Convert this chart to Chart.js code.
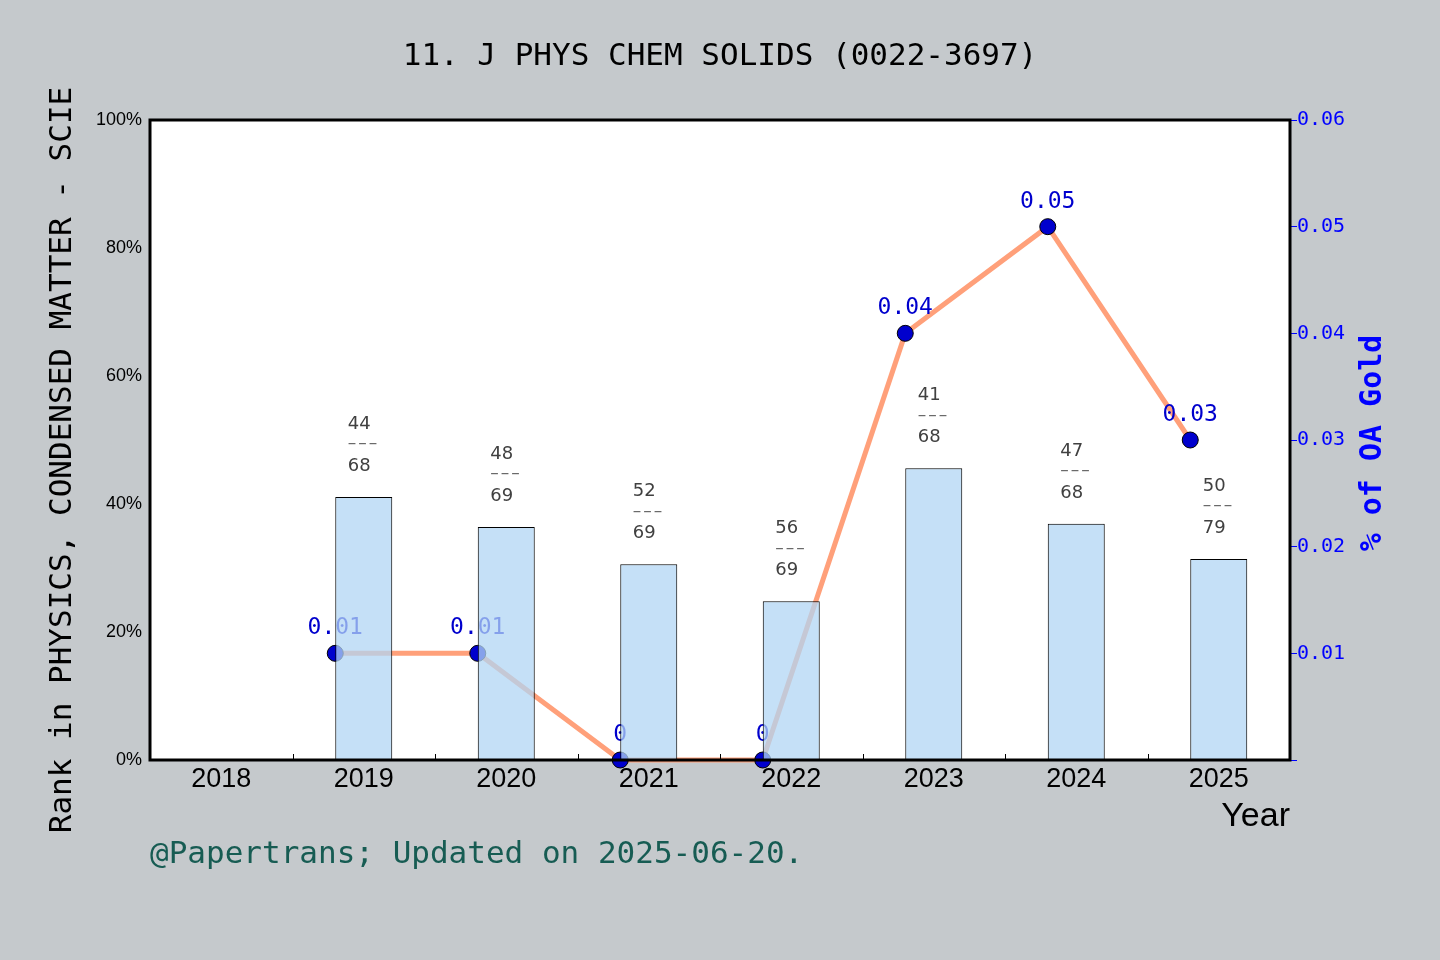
<!DOCTYPE html>
<html>
<head>
<meta charset="utf-8">
<script src="https://cdn.jsdelivr.net/npm/chart.js@4.4.1/dist/chart.umd.min.js"></script>
<style>
  html, body { margin: 0; padding: 0; background: #c5c9cc; }
  #wrap { width: 1440px; height: 960px; }
</style>
</head>
<body>
<div id="wrap"><canvas id="grafico" width="1440" height="960"></canvas></div>
<script>
// Datos
const years = ['2018', '2019', '2020', '2021', '2022', '2023', '2024', '2025'];
const rankPct = [null, 41.1, 36.4, 30.6, 24.8, 45.6, 36.9, 31.4];
const ranks = [null, 44, 48, 52, 56, 41, 47, 50];
const totals = [null, 68, 69, 69, 69, 68, 68, 79];
const oaGold = [null, 0.01, 0.01, 0, 0, 0.04, 0.05, 0.03];
const leftTicks = [0, 20, 40, 60, 80, 100];
const rightTicks = [0, 0.01, 0.02, 0.03, 0.04, 0.05, 0.06];

const MONO = '"DejaVu Sans Mono", "Liberation Mono", monospace';
const SANS = '"Liberation Sans", Arial, sans-serif';
const anchoBarra = 0.4;

// la línea va al borde izquierdo de cada barra
const puntosLinea = years
    .map((y, i) => ({ x: i - anchoBarra / 2, y: oaGold[i] }))
    .filter(p => p.y !== null);

const decoracion = {
    id: 'decoracion',
    beforeDraw(chart) {
        const { ctx, chartArea: a } = chart;
        ctx.save();
        ctx.fillStyle = '#c5c9cc';
        ctx.fillRect(0, 0, chart.width, chart.height);
        ctx.fillStyle = '#ffffff';
        ctx.fillRect(a.left, a.top, a.right - a.left, a.bottom - a.top);
        ctx.restore();
    },
    afterDatasetDraw(chart, args) {
        // etiquetas de la línea antes de que se pinten las barras encima
        if (args.index !== 1) return;
        const { ctx } = chart;
        const meta = chart.getDatasetMeta(1);
        ctx.save();
        ctx.font = '23px ' + MONO;
        ctx.fillStyle = '#0000cd';
        ctx.textAlign = 'center';
        ctx.textBaseline = 'middle';
        meta.data.forEach((pt, k) => {
            const v = puntosLinea[k].y;
            const txt = v === 0 ? '0' : v.toFixed(2);
            ctx.fillText(txt, pt.x, pt.y - 25);
        });
        ctx.restore();
    },
    afterDatasetsDraw(chart) {
        const { ctx, chartArea: a } = chart;
        const meta = chart.getDatasetMeta(0);
        const x = chart.scales.x;
        ctx.save();
        // rango / total encima de cada barra
        ctx.textAlign = 'left';
        ctx.textBaseline = 'middle';
        meta.data.forEach((bar, i) => {
            if (rankPct[i] === null) return;
            const x0 = bar.x - 16;
            ctx.font = '18px "DejaVu Sans", sans-serif';
            ctx.fillStyle = '#404040';
            ctx.letterSpacing = '0px';
            ctx.fillText(String(ranks[i]), x0, bar.y - 73);
            ctx.fillText(String(totals[i]), x0, bar.y - 31);
            ctx.font = '17px "DejaVu Sans", sans-serif';
            ctx.fillStyle = '#6a6a6a';
            ctx.letterSpacing = '2px';
            ctx.fillText('\u2013\u2013\u2013', x0, bar.y - 53);
        });
        ctx.letterSpacing = '0px';
        // marcas internas entre categorías
        ctx.strokeStyle = '#000';
        ctx.lineWidth = 1;
        for (let i = 0; i < years.length - 1; i++) {
            const xb = Math.round((x.getPixelForTick(i) + x.getPixelForTick(i + 1)) / 2) + 0.5;
            ctx.beginPath();
            ctx.moveTo(xb, a.bottom);
            ctx.lineTo(xb, a.bottom - 6);
            ctx.stroke();
        }
        // marco
        ctx.lineWidth = 3;
        ctx.strokeRect(a.left, a.top, a.right - a.left, a.bottom - a.top);
        ctx.restore();
    },
    afterDraw(chart) {
        const { ctx, chartArea: a } = chart;
        ctx.save();
        ctx.textBaseline = 'middle';
        ctx.textAlign = 'center';
        ctx.fillStyle = '#000';
        ctx.font = '31px ' + MONO;
        ctx.fillText('11. J PHYS CHEM SOLIDS (0022-3697)', 720, 57);

        ctx.textAlign = 'left';
        ctx.fillStyle = '#175c53';
        ctx.fillText('@Papertrans; Updated on 2025-06-20.', 150, 855);

        ctx.textAlign = 'right';
        ctx.fillStyle = '#000';
        ctx.font = '34px ' + SANS;
        ctx.fillText('Year', a.right, 817);

        ctx.save();
        ctx.translate(63, 460);
        ctx.rotate(-Math.PI / 2);
        ctx.textAlign = 'center';
        ctx.font = '31px ' + MONO;
        ctx.fillStyle = '#000';
        ctx.fillText('Rank in PHYSICS, CONDENSED MATTER - SCIE', 0, 0);
        ctx.restore();

        ctx.save();
        ctx.translate(1373, 443);
        ctx.rotate(-Math.PI / 2);
        ctx.textAlign = 'center';
        ctx.font = 'bold 30px ' + MONO;
        ctx.fillStyle = '#0000ff';
        ctx.fillText('% of OA Gold', 0, 0);
        ctx.restore();
        ctx.restore();
    }
};

new Chart(document.getElementById('grafico'), {
    type: 'bar',
    data: {
        labels: years,
        datasets: [{
            type: 'bar',
            label: 'Rank',
            data: rankPct,
            backgroundColor: 'rgba(177, 213, 244, 0.75)',
            borderColor: '#000',
            borderWidth: 1,
            barPercentage: anchoBarra,
            categoryPercentage: 1,
            grouped: false,
            xAxisID: 'x',
            yAxisID: 'y',
            order: 1
        }, {
            type: 'line',
            label: 'OA Gold',
            data: puntosLinea,
            borderColor: '#ffa07a',
            borderWidth: 5,
            pointRadius: 8,
            pointBackgroundColor: '#0000cd',
            pointBorderColor: '#000',
            pointBorderWidth: 1,
            tension: 0,
            clip: false,
            xAxisID: 'xl',
            yAxisID: 'y1',
            order: 2
        }]
    },
    options: {
        responsive: false,
        animation: false,
        layout: { padding: { top: 120, left: 0, right: 0, bottom: 0 } },
        plugins: {
            legend: { display: false },
            tooltip: { enabled: false },
            title: { display: false }
        },
        scales: {
            x: {
                type: 'category',
                offset: true,
                grid: { display: false, drawTicks: false },
                border: { display: false },
                ticks: { color: '#000', font: { family: SANS, size: 27 }, padding: 3, maxRotation: 0 },
                afterFit(s) { s.height = 200; }
            },
            xl: {
                type: 'linear',
                display: false,
                offset: false,
                grid: { offset: false },
                min: -0.5,
                max: years.length - 0.5
            },
            y: {
                position: 'left',
                min: 0,
                max: 100,
                afterBuildTicks(s) { s.ticks = leftTicks.map(v => ({ value: v })); },
                grid: { display: false, drawTicks: false },
                border: { display: false },
                ticks: {
                    color: '#000',
                    font: { family: SANS, size: 18 },
                    padding: 8,
                    callback: v => v + '%'
                },
                afterFit(s) { s.width = 150; }
            },
            y1: {
                position: 'right',
                min: 0,
                max: 0.06,
                afterBuildTicks(s) { s.ticks = rightTicks.map(v => ({ value: v })); },
                grid: { drawOnChartArea: false, color: '#0000ff', tickLength: 7, lineWidth: 1 },
                border: { display: false },
                ticks: {
                    color: '#0000ff',
                    font: { family: MONO, size: 20 },
                    padding: 0,
                    callback: v => v === 0 ? '' : v.toFixed(2)
                },
                afterFit(s) { s.width = 150; }
            }
        }
    },
    plugins: [decoracion]
});
</script>
</body>
</html>
